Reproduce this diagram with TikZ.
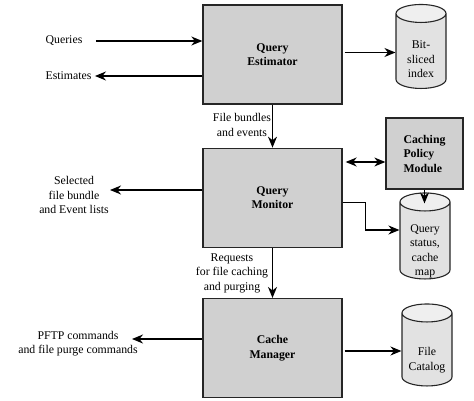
\documentclass[tikz,border=0pt]{standalone}
\usepackage{fontspec}
\setmainfont{Liberation Serif}
\usepackage{tikz}
\usetikzlibrary{positioning}
\usetikzlibrary{shapes.geometric}
\usetikzlibrary{calc}
\usetikzlibrary{arrows.meta}

\definecolor{boxgray}{HTML}{D0D0D0}
\definecolor{cylgray}{HTML}{E2E2E2}
\definecolor{cylend}{HTML}{EFEFEF}
\newcommand{\diagfont}{\fontsize{11.8}{14.5}\selectfont}
\newcommand{\cylspan}{\rule{48pt}{0pt}}

\tikzset{
	module/.style={draw=black!85, line width=1.3pt, fill=boxgray, minimum width=139pt, minimum height=99pt, align=center, font=\diagfont\bfseries, inner sep=2pt},
	store/.style={cylinder, shape border rotate=90, aspect=0.36, draw=black!85, line width=1.1pt, cylinder uses custom fill, cylinder body fill=cylgray, cylinder end fill=cylend, minimum width=50pt, minimum height=84pt, inner sep=1pt},
	storetext/.style={align=center, inner sep=1pt},
	flow/.style={-{Stealth[length=11pt,width=9pt,inset=3.5pt]}, line width=1.3pt},
	twoway/.style={{Stealth[length=11pt,width=9pt,inset=3.5pt]}-{Stealth[length=11pt,width=9pt,inset=3.5pt]}, line width=1.3pt},
}

\begin{document}
\begin{tikzpicture}[x=1pt,y=-1pt,font=\diagfont]
		\useasboundingbox (0,0) rectangle (474,401);
		% Middle column
		\node [module] at (272.5,54.5) (qe) {Query\\Estimator};
		\node [module, below=43pt of qe] (qm) {Query\\Monitor};
		\node [module, below=50pt of qm] (cm) {Cache\\Manager};
		
		% Right column
		\node [module, minimum width=77pt, minimum height=71pt, align=left] at (424.5,153.5) (cpm) {Caching\\Policy\\Module};
		\node [store] at (421,52.5) (bitindex) {\cylspan};
		\node [store, minimum height=86pt] at (425,242) (qstatus) {\cylspan};
		\node [store, minimum height=82pt] at (427,351) (filecat) {\cylspan};
		\node [storetext] at ($(bitindex.center)+(0,7)$) (bitindextext) {Bit-\\sliced\\index};
		\node [storetext] at ($(qstatus.center)+(0,9.5)$) (qstatustext) {Query\\status,\\cache\\map};
		\node [storetext] at ($(filecat.center)+(0,9)$) (filecattext) {File\\Catalog};
		
		% Labels
		\node at (64,41) (queries) {Queries};
		\node at (68.5,76) (estimates) {Estimates};
		\node [align=center] at (74,195) (selected) {Selected\\file bundle\\and Event lists};
		\node [align=center] at (78,343.5) (pftp) {PFTP commands\\and file purge commands};
		\node [align=center] at (242,125) (bundles) {File bundles\\and events};
		\node [align=center] at (232,273) (requests) {Requests\\for file caching\\and purging};
		\coordinate (selend) at (110,190);
		\coordinate (pftpend) at (132,339);
		\coordinate (qstatustop) at ($(qstatus.top)+(0,11)$);
		
		% Connections
		\draw [flow, shorten <=10pt] (queries.east) -- (queries.east -| qe.west);
		\draw [flow] (estimates.east -| qe.west) -- (estimates.east);
		\draw [flow] (selend -| qm.west) -- (selend);
		\draw [flow] (pftpend -| cm.west) -- (pftpend);
		\draw [flow] (qe.south) -- (qm.north); \draw [flow] (qm.south) -- (cm.north);
		\draw [flow, shorten <=2pt] (qe.east |- bitindex.west) -- (bitindex.west);
		\draw [twoway, shorten >=3pt] ([yshift=-8.5pt]cpm.west) -- ([yshift=-8.5pt]cpm.west -| qm.east);
		\draw [flow] ([yshift=-4.5pt]qm.east) -- ++(23,0) |- ([yshift=12pt]qstatus.west);
		\draw [flow] (cpm.south) -- (cpm.south |- qstatustop);
		\draw [flow, shorten <=2pt] (cm.east |- filecat.west) -- (filecat.west);
\end{tikzpicture}
\end{document}
